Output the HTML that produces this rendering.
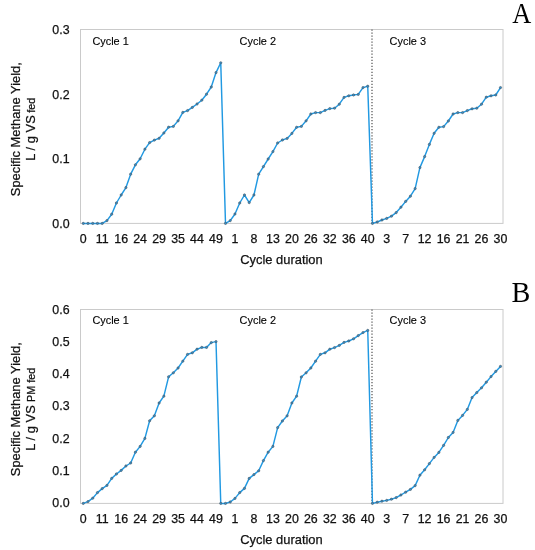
<!DOCTYPE html>
<html><head><meta charset="utf-8"><title>Specific Methane Yield</title>
<style>
html,body{margin:0;padding:0;background:#fff;}
svg{display:block;}
text{font-family:"Liberation Sans",Arial,sans-serif;fill:#111;}
.t text{font-size:12.4px;stroke:#111;stroke-width:0.25px;}
.c text{font-size:11.5px;fill:#000;stroke:#000;stroke-width:0.12px;}
.yt,.t text.yt{font-size:12.9px;stroke:#111;stroke-width:0.25px;}
.s{font-family:"Liberation Serif","Times New Roman",serif;font-size:29.1px;fill:#000;}
</style></head><body>
<svg width="535" height="550" viewBox="0 0 535 550">
<rect width="535" height="550" fill="#fff"/>
<rect x="80.5" y="29.5" width="422.5" height="193.9" fill="#fff" stroke="#cacaca" stroke-width="1"/>
<line x1="372.0" y1="29.45" x2="372.0" y2="223.4" stroke="#505050" stroke-width="1.2" stroke-dasharray="1.25 1.77"/>
<polyline points="83.25,223.40 87.99,223.40 92.73,223.40 97.47,223.40 102.22,223.40 106.96,220.60 111.70,214.20 116.44,203.00 121.18,195.00 125.92,187.60 130.67,174.20 135.41,164.80 140.15,158.80 144.89,149.20 149.63,142.60 154.37,140.10 159.11,138.30 163.86,133.00 168.60,127.20 173.34,126.40 178.08,120.80 182.82,112.40 187.56,110.60 192.30,107.40 197.05,104.00 201.79,100.20 206.53,94.20 211.27,87.00 216.01,72.60 220.75,62.80 225.50,223.40 230.24,220.60 234.98,214.00 239.72,203.00 244.46,195.00 249.20,202.60 253.94,195.00 258.69,174.20 263.43,166.60 268.17,159.00 272.91,151.60 277.65,143.00 282.39,140.00 287.13,138.40 291.88,133.40 296.62,127.30 301.36,126.40 306.10,120.80 310.84,114.00 315.58,112.60 320.33,112.60 325.07,110.40 329.81,108.60 334.55,108.20 339.29,104.20 344.03,97.40 348.77,95.80 353.52,95.00 358.26,94.40 363.00,87.60 367.74,86.20 372.48,223.40 377.22,222.00 381.96,220.00 386.71,218.40 391.45,216.20 396.19,212.60 400.93,207.20 405.67,201.40 410.41,196.20 415.16,188.60 419.90,167.60 424.64,156.60 429.38,144.40 434.12,133.30 438.86,127.30 443.60,126.60 448.35,121.00 453.09,114.00 457.83,112.60 462.57,112.60 467.31,110.60 472.05,108.80 476.79,108.20 481.54,104.20 486.28,97.20 491.02,95.80 495.76,95.00 500.50,87.60" fill="none" stroke="#2199e2" stroke-width="1.45" stroke-linejoin="round" stroke-linecap="round"/>
<g fill="#3390cc" stroke="#4b4f55" stroke-width="0.55">
<circle cx="83.25" cy="223.40" r="1.15"/>
<circle cx="87.99" cy="223.40" r="1.15"/>
<circle cx="92.73" cy="223.40" r="1.15"/>
<circle cx="97.47" cy="223.40" r="1.15"/>
<circle cx="102.22" cy="223.40" r="1.15"/>
<circle cx="106.96" cy="220.60" r="1.15"/>
<circle cx="111.70" cy="214.20" r="1.15"/>
<circle cx="116.44" cy="203.00" r="1.15"/>
<circle cx="121.18" cy="195.00" r="1.15"/>
<circle cx="125.92" cy="187.60" r="1.15"/>
<circle cx="130.67" cy="174.20" r="1.15"/>
<circle cx="135.41" cy="164.80" r="1.15"/>
<circle cx="140.15" cy="158.80" r="1.15"/>
<circle cx="144.89" cy="149.20" r="1.15"/>
<circle cx="149.63" cy="142.60" r="1.15"/>
<circle cx="154.37" cy="140.10" r="1.15"/>
<circle cx="159.11" cy="138.30" r="1.15"/>
<circle cx="163.86" cy="133.00" r="1.15"/>
<circle cx="168.60" cy="127.20" r="1.15"/>
<circle cx="173.34" cy="126.40" r="1.15"/>
<circle cx="178.08" cy="120.80" r="1.15"/>
<circle cx="182.82" cy="112.40" r="1.15"/>
<circle cx="187.56" cy="110.60" r="1.15"/>
<circle cx="192.30" cy="107.40" r="1.15"/>
<circle cx="197.05" cy="104.00" r="1.15"/>
<circle cx="201.79" cy="100.20" r="1.15"/>
<circle cx="206.53" cy="94.20" r="1.15"/>
<circle cx="211.27" cy="87.00" r="1.15"/>
<circle cx="216.01" cy="72.60" r="1.15"/>
<circle cx="220.75" cy="62.80" r="1.15"/>
<circle cx="225.50" cy="223.40" r="1.15"/>
<circle cx="230.24" cy="220.60" r="1.15"/>
<circle cx="234.98" cy="214.00" r="1.15"/>
<circle cx="239.72" cy="203.00" r="1.15"/>
<circle cx="244.46" cy="195.00" r="1.15"/>
<circle cx="249.20" cy="202.60" r="1.15"/>
<circle cx="253.94" cy="195.00" r="1.15"/>
<circle cx="258.69" cy="174.20" r="1.15"/>
<circle cx="263.43" cy="166.60" r="1.15"/>
<circle cx="268.17" cy="159.00" r="1.15"/>
<circle cx="272.91" cy="151.60" r="1.15"/>
<circle cx="277.65" cy="143.00" r="1.15"/>
<circle cx="282.39" cy="140.00" r="1.15"/>
<circle cx="287.13" cy="138.40" r="1.15"/>
<circle cx="291.88" cy="133.40" r="1.15"/>
<circle cx="296.62" cy="127.30" r="1.15"/>
<circle cx="301.36" cy="126.40" r="1.15"/>
<circle cx="306.10" cy="120.80" r="1.15"/>
<circle cx="310.84" cy="114.00" r="1.15"/>
<circle cx="315.58" cy="112.60" r="1.15"/>
<circle cx="320.33" cy="112.60" r="1.15"/>
<circle cx="325.07" cy="110.40" r="1.15"/>
<circle cx="329.81" cy="108.60" r="1.15"/>
<circle cx="334.55" cy="108.20" r="1.15"/>
<circle cx="339.29" cy="104.20" r="1.15"/>
<circle cx="344.03" cy="97.40" r="1.15"/>
<circle cx="348.77" cy="95.80" r="1.15"/>
<circle cx="353.52" cy="95.00" r="1.15"/>
<circle cx="358.26" cy="94.40" r="1.15"/>
<circle cx="363.00" cy="87.60" r="1.15"/>
<circle cx="367.74" cy="86.20" r="1.15"/>
<circle cx="372.48" cy="223.40" r="1.15"/>
<circle cx="377.22" cy="222.00" r="1.15"/>
<circle cx="381.96" cy="220.00" r="1.15"/>
<circle cx="386.71" cy="218.40" r="1.15"/>
<circle cx="391.45" cy="216.20" r="1.15"/>
<circle cx="396.19" cy="212.60" r="1.15"/>
<circle cx="400.93" cy="207.20" r="1.15"/>
<circle cx="405.67" cy="201.40" r="1.15"/>
<circle cx="410.41" cy="196.20" r="1.15"/>
<circle cx="415.16" cy="188.60" r="1.15"/>
<circle cx="419.90" cy="167.60" r="1.15"/>
<circle cx="424.64" cy="156.60" r="1.15"/>
<circle cx="429.38" cy="144.40" r="1.15"/>
<circle cx="434.12" cy="133.30" r="1.15"/>
<circle cx="438.86" cy="127.30" r="1.15"/>
<circle cx="443.60" cy="126.60" r="1.15"/>
<circle cx="448.35" cy="121.00" r="1.15"/>
<circle cx="453.09" cy="114.00" r="1.15"/>
<circle cx="457.83" cy="112.60" r="1.15"/>
<circle cx="462.57" cy="112.60" r="1.15"/>
<circle cx="467.31" cy="110.60" r="1.15"/>
<circle cx="472.05" cy="108.80" r="1.15"/>
<circle cx="476.79" cy="108.20" r="1.15"/>
<circle cx="481.54" cy="104.20" r="1.15"/>
<circle cx="486.28" cy="97.20" r="1.15"/>
<circle cx="491.02" cy="95.80" r="1.15"/>
<circle cx="495.76" cy="95.00" r="1.15"/>
<circle cx="500.50" cy="87.60" r="1.15"/>
</g>
<g class="t" text-anchor="end">
<text x="69.6" y="228.00">0.0</text>
<text x="69.6" y="163.37">0.1</text>
<text x="69.6" y="98.73">0.2</text>
<text x="69.6" y="34.10">0.3</text>
</g>
<g class="t" text-anchor="middle">
<text x="83.2" y="243.2">0</text>
<text x="102.2" y="243.2">11</text>
<text x="121.2" y="243.2">16</text>
<text x="140.1" y="243.2">24</text>
<text x="159.1" y="243.2">29</text>
<text x="178.1" y="243.2">35</text>
<text x="197.0" y="243.2">44</text>
<text x="216.0" y="243.2">49</text>
<text x="235.0" y="243.2">1</text>
<text x="253.9" y="243.2">8</text>
<text x="272.9" y="243.2">13</text>
<text x="291.9" y="243.2">20</text>
<text x="310.8" y="243.2">26</text>
<text x="329.8" y="243.2">32</text>
<text x="348.8" y="243.2">36</text>
<text x="367.7" y="243.2">40</text>
<text x="386.7" y="243.2">3</text>
<text x="405.7" y="243.2">7</text>
<text x="424.6" y="243.2">12</text>
<text x="443.6" y="243.2">16</text>
<text x="462.6" y="243.2">21</text>
<text x="481.5" y="243.2">26</text>
<text x="500.5" y="243.2">30</text>
<text class="yt" x="281.5" y="263.7">Cycle duration</text>
</g>
<g class="c"><text x="92.4" y="44.5" textLength="36.4" lengthAdjust="spacingAndGlyphs">Cycle 1</text><text x="239.6" y="44.5" textLength="36.4" lengthAdjust="spacingAndGlyphs">Cycle 2</text><text x="389.6" y="44.5" textLength="36.4" lengthAdjust="spacingAndGlyphs">Cycle 3</text></g>
<text class="yt" text-anchor="middle" transform="translate(20.4,129.2) rotate(-90)">Specific Methane Yield,</text>
<text class="yt" text-anchor="middle" transform="translate(35.4,129.2) rotate(-90)">L / g VS<tspan font-size="10.8" dx="-0.5"> fed</tspan></text>
<text class="s" transform="translate(512.2,22.7) scale(0.905,1)">A</text>
<rect x="80.5" y="309.5" width="422.5" height="193.89999999999998" fill="#fff" stroke="#cacaca" stroke-width="1"/>
<line x1="372.0" y1="309.45" x2="372.0" y2="503.4" stroke="#505050" stroke-width="1.2" stroke-dasharray="1.25 1.77"/>
<polyline points="83.25,503.40 87.99,501.60 92.73,498.20 97.47,492.60 102.22,488.60 106.96,485.40 111.70,478.40 116.44,474.00 121.18,470.40 125.92,466.00 130.67,463.00 135.41,452.20 140.15,446.40 144.89,438.40 149.63,420.80 154.37,415.80 159.11,403.00 163.86,396.20 168.60,376.80 173.34,372.80 178.08,368.00 182.82,361.20 187.56,354.40 192.30,352.80 197.05,349.20 201.79,347.40 206.53,347.40 211.27,342.60 216.01,341.60 220.75,503.40 225.50,503.40 230.24,502.00 234.98,498.40 239.72,492.60 244.46,488.40 249.20,478.40 253.94,474.60 258.69,470.80 263.43,460.60 268.17,452.20 272.91,446.40 277.65,427.60 282.39,421.00 287.13,415.80 291.88,403.00 296.62,396.20 301.36,377.00 306.10,372.80 310.84,368.00 315.58,361.20 320.33,354.40 325.07,352.80 329.81,349.20 334.55,347.60 339.29,345.40 344.03,342.40 348.77,341.00 353.52,338.80 358.26,335.60 363.00,332.60 367.74,330.40 372.48,503.40 377.22,502.20 381.96,501.20 386.71,500.40 391.45,499.20 396.19,497.60 400.93,495.00 405.67,492.20 410.41,489.40 415.16,485.60 419.90,475.20 424.64,469.80 429.38,463.60 434.12,457.40 438.86,452.40 443.60,445.40 448.35,437.50 453.09,432.40 457.83,420.40 462.57,415.40 467.31,409.40 472.05,397.60 476.79,392.60 481.54,387.80 486.28,382.20 491.02,376.60 495.76,371.40 500.50,366.40" fill="none" stroke="#2199e2" stroke-width="1.45" stroke-linejoin="round" stroke-linecap="round"/>
<g fill="#3390cc" stroke="#4b4f55" stroke-width="0.55">
<circle cx="83.25" cy="503.40" r="1.15"/>
<circle cx="87.99" cy="501.60" r="1.15"/>
<circle cx="92.73" cy="498.20" r="1.15"/>
<circle cx="97.47" cy="492.60" r="1.15"/>
<circle cx="102.22" cy="488.60" r="1.15"/>
<circle cx="106.96" cy="485.40" r="1.15"/>
<circle cx="111.70" cy="478.40" r="1.15"/>
<circle cx="116.44" cy="474.00" r="1.15"/>
<circle cx="121.18" cy="470.40" r="1.15"/>
<circle cx="125.92" cy="466.00" r="1.15"/>
<circle cx="130.67" cy="463.00" r="1.15"/>
<circle cx="135.41" cy="452.20" r="1.15"/>
<circle cx="140.15" cy="446.40" r="1.15"/>
<circle cx="144.89" cy="438.40" r="1.15"/>
<circle cx="149.63" cy="420.80" r="1.15"/>
<circle cx="154.37" cy="415.80" r="1.15"/>
<circle cx="159.11" cy="403.00" r="1.15"/>
<circle cx="163.86" cy="396.20" r="1.15"/>
<circle cx="168.60" cy="376.80" r="1.15"/>
<circle cx="173.34" cy="372.80" r="1.15"/>
<circle cx="178.08" cy="368.00" r="1.15"/>
<circle cx="182.82" cy="361.20" r="1.15"/>
<circle cx="187.56" cy="354.40" r="1.15"/>
<circle cx="192.30" cy="352.80" r="1.15"/>
<circle cx="197.05" cy="349.20" r="1.15"/>
<circle cx="201.79" cy="347.40" r="1.15"/>
<circle cx="206.53" cy="347.40" r="1.15"/>
<circle cx="211.27" cy="342.60" r="1.15"/>
<circle cx="216.01" cy="341.60" r="1.15"/>
<circle cx="220.75" cy="503.40" r="1.15"/>
<circle cx="225.50" cy="503.40" r="1.15"/>
<circle cx="230.24" cy="502.00" r="1.15"/>
<circle cx="234.98" cy="498.40" r="1.15"/>
<circle cx="239.72" cy="492.60" r="1.15"/>
<circle cx="244.46" cy="488.40" r="1.15"/>
<circle cx="249.20" cy="478.40" r="1.15"/>
<circle cx="253.94" cy="474.60" r="1.15"/>
<circle cx="258.69" cy="470.80" r="1.15"/>
<circle cx="263.43" cy="460.60" r="1.15"/>
<circle cx="268.17" cy="452.20" r="1.15"/>
<circle cx="272.91" cy="446.40" r="1.15"/>
<circle cx="277.65" cy="427.60" r="1.15"/>
<circle cx="282.39" cy="421.00" r="1.15"/>
<circle cx="287.13" cy="415.80" r="1.15"/>
<circle cx="291.88" cy="403.00" r="1.15"/>
<circle cx="296.62" cy="396.20" r="1.15"/>
<circle cx="301.36" cy="377.00" r="1.15"/>
<circle cx="306.10" cy="372.80" r="1.15"/>
<circle cx="310.84" cy="368.00" r="1.15"/>
<circle cx="315.58" cy="361.20" r="1.15"/>
<circle cx="320.33" cy="354.40" r="1.15"/>
<circle cx="325.07" cy="352.80" r="1.15"/>
<circle cx="329.81" cy="349.20" r="1.15"/>
<circle cx="334.55" cy="347.60" r="1.15"/>
<circle cx="339.29" cy="345.40" r="1.15"/>
<circle cx="344.03" cy="342.40" r="1.15"/>
<circle cx="348.77" cy="341.00" r="1.15"/>
<circle cx="353.52" cy="338.80" r="1.15"/>
<circle cx="358.26" cy="335.60" r="1.15"/>
<circle cx="363.00" cy="332.60" r="1.15"/>
<circle cx="367.74" cy="330.40" r="1.15"/>
<circle cx="372.48" cy="503.40" r="1.15"/>
<circle cx="377.22" cy="502.20" r="1.15"/>
<circle cx="381.96" cy="501.20" r="1.15"/>
<circle cx="386.71" cy="500.40" r="1.15"/>
<circle cx="391.45" cy="499.20" r="1.15"/>
<circle cx="396.19" cy="497.60" r="1.15"/>
<circle cx="400.93" cy="495.00" r="1.15"/>
<circle cx="405.67" cy="492.20" r="1.15"/>
<circle cx="410.41" cy="489.40" r="1.15"/>
<circle cx="415.16" cy="485.60" r="1.15"/>
<circle cx="419.90" cy="475.20" r="1.15"/>
<circle cx="424.64" cy="469.80" r="1.15"/>
<circle cx="429.38" cy="463.60" r="1.15"/>
<circle cx="434.12" cy="457.40" r="1.15"/>
<circle cx="438.86" cy="452.40" r="1.15"/>
<circle cx="443.60" cy="445.40" r="1.15"/>
<circle cx="448.35" cy="437.50" r="1.15"/>
<circle cx="453.09" cy="432.40" r="1.15"/>
<circle cx="457.83" cy="420.40" r="1.15"/>
<circle cx="462.57" cy="415.40" r="1.15"/>
<circle cx="467.31" cy="409.40" r="1.15"/>
<circle cx="472.05" cy="397.60" r="1.15"/>
<circle cx="476.79" cy="392.60" r="1.15"/>
<circle cx="481.54" cy="387.80" r="1.15"/>
<circle cx="486.28" cy="382.20" r="1.15"/>
<circle cx="491.02" cy="376.60" r="1.15"/>
<circle cx="495.76" cy="371.40" r="1.15"/>
<circle cx="500.50" cy="366.40" r="1.15"/>
</g>
<g class="t" text-anchor="end">
<text x="69.6" y="507.28">0.0</text>
<text x="69.6" y="475.01">0.1</text>
<text x="69.6" y="442.74">0.2</text>
<text x="69.6" y="410.47">0.3</text>
<text x="69.6" y="378.20">0.4</text>
<text x="69.6" y="345.93">0.5</text>
<text x="69.6" y="313.66">0.6</text>
</g>
<g class="t" text-anchor="middle">
<text x="83.2" y="522.9">0</text>
<text x="102.2" y="522.9">11</text>
<text x="121.2" y="522.9">16</text>
<text x="140.1" y="522.9">24</text>
<text x="159.1" y="522.9">29</text>
<text x="178.1" y="522.9">35</text>
<text x="197.0" y="522.9">44</text>
<text x="216.0" y="522.9">49</text>
<text x="235.0" y="522.9">1</text>
<text x="253.9" y="522.9">8</text>
<text x="272.9" y="522.9">13</text>
<text x="291.9" y="522.9">20</text>
<text x="310.8" y="522.9">26</text>
<text x="329.8" y="522.9">32</text>
<text x="348.8" y="522.9">36</text>
<text x="367.7" y="522.9">40</text>
<text x="386.7" y="522.9">3</text>
<text x="405.7" y="522.9">7</text>
<text x="424.6" y="522.9">12</text>
<text x="443.6" y="522.9">16</text>
<text x="462.6" y="522.9">21</text>
<text x="481.5" y="522.9">26</text>
<text x="500.5" y="522.9">30</text>
<text class="yt" x="281.5" y="543.7">Cycle duration</text>
</g>
<g class="c"><text x="92.4" y="324.1" textLength="36.4" lengthAdjust="spacingAndGlyphs">Cycle 1</text><text x="239.6" y="324.1" textLength="36.4" lengthAdjust="spacingAndGlyphs">Cycle 2</text><text x="389.6" y="324.1" textLength="36.4" lengthAdjust="spacingAndGlyphs">Cycle 3</text></g>
<text class="yt" text-anchor="middle" transform="translate(20.4,409.2) rotate(-90)">Specific Methane Yield,</text>
<text class="yt" text-anchor="middle" transform="translate(35.4,409.2) rotate(-90)">L / g VS<tspan font-size="10.8" dx="0.3"> PM fed</tspan></text>
<text class="s" transform="translate(511.6,301.9) scale(0.97,1)">B</text>
</svg>
</body></html>
